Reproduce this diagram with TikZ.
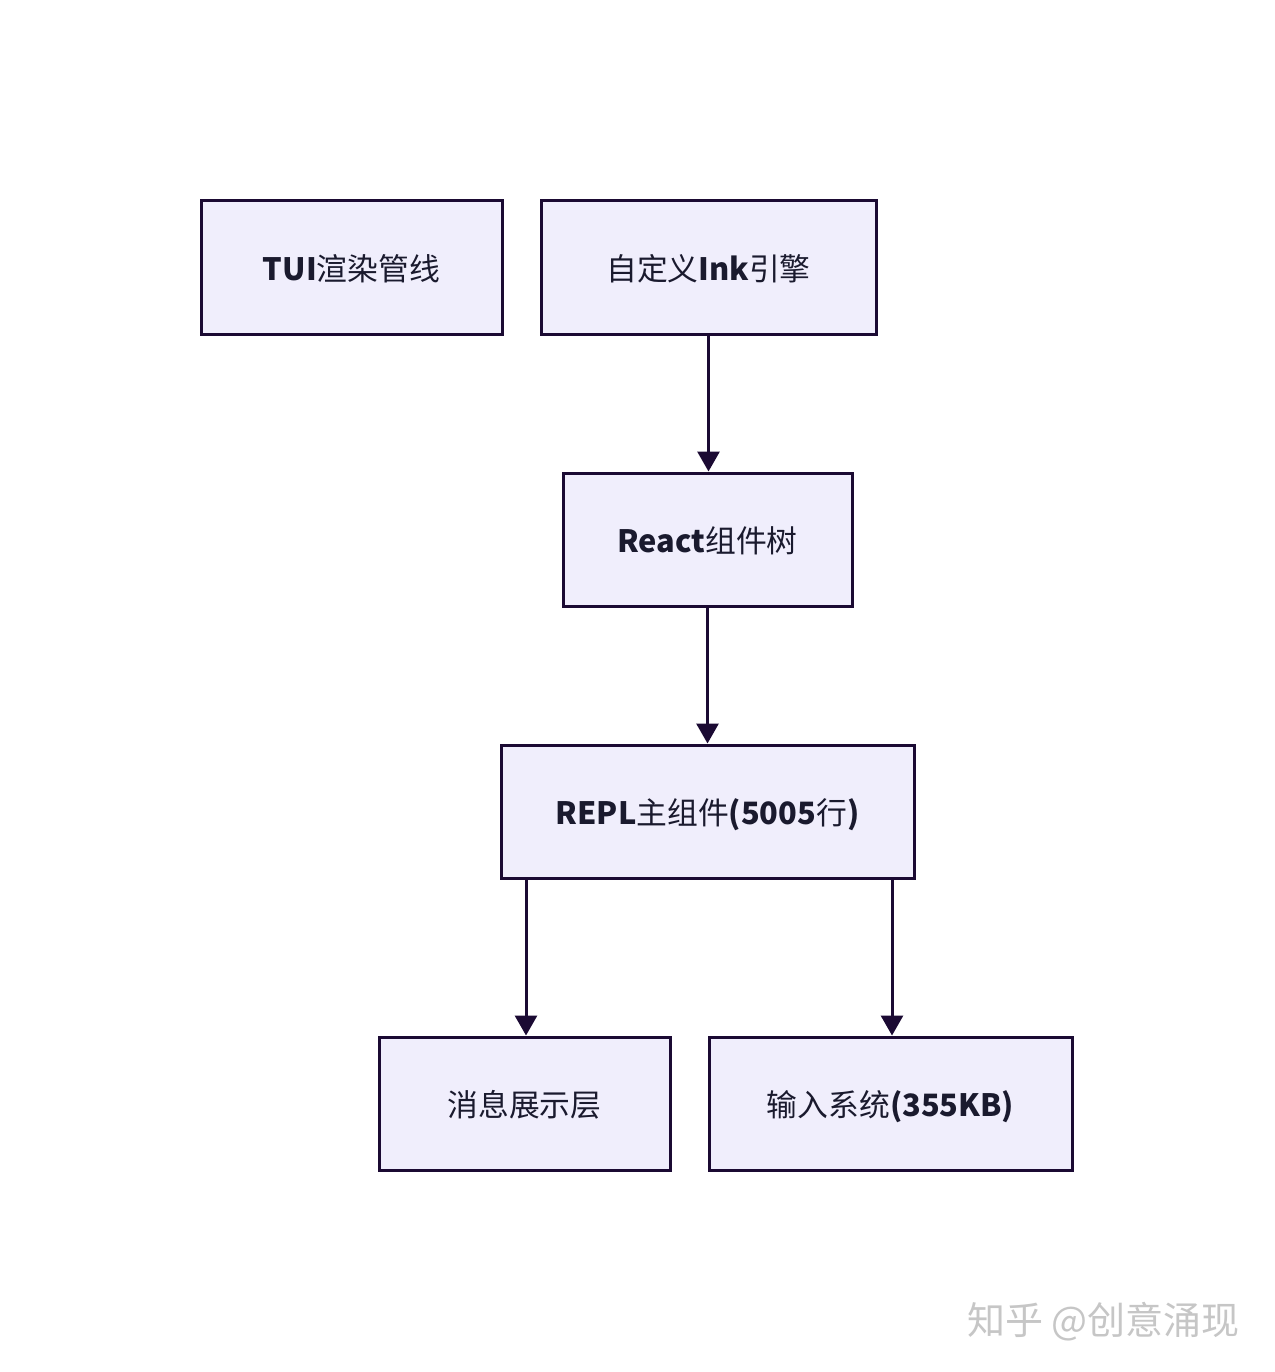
\documentclass[tikz,border=0pt]{standalone}
\usepackage{fontspec}
\setmainfont{Noto Sans CJK SC}
\usetikzlibrary{arrows.meta,calc}
\definecolor{boxfill}{HTML}{F0EEFC}
\definecolor{boxline}{HTML}{1B0A33}
\definecolor{txt}{HTML}{1A1A2E}
\definecolor{wm}{HTML}{C6C6C6}
\begin{document}
\begin{tikzpicture}[x=1pt,y=-1pt,
  box/.style={draw=boxline,fill=boxfill,line width=3pt,minimum height=133pt,inner sep=0pt,text depth=0pt,text=txt,font=\fontsize{30.8}{36}\selectfont},
  link/.style={draw=boxline,line width=3pt,-{Triangle[length=20pt,width=22pt]}}]
\fill[white] (0,0) rectangle (1274,1372);
\useasboundingbox (0,0) rectangle (1274,1372);
\node[box,minimum width=301pt] (tui) at (351.5,267.5) {\textbf{TUI}渲染管线};
\node[box,minimum width=335pt] (ink) at (708.5,267.5) {自定义\textbf{Ink}引擎};
\node[box,minimum width=289pt] (react) at (707.5,539.5) {\textbf{React}组件树};
\node[box,minimum width=413pt] (repl) at (707.5,811.5) {\textbf{REPL}主组件\textbf{(5005}行\textbf{)}};
\node[box,minimum width=291pt] (msg) at (524.5,1103.5) {消息展示层};
\node[box,minimum width=363pt] (inp) at (890.5,1103.5) {输入系统\textbf{(355KB)}};
\draw[link] (ink.south) -- (ink.south |- react.north);
\draw[link] (react.south) -- (react.south |- repl.north);
\coordinate (a1) at ($(msg.north)+(1.5,0)$);
\coordinate (a2) at ($(inp.north)+(1.5,0)$);
\draw[link] (a1 |- repl.south) -- (a1);
\draw[link] (a2 |- repl.south) -- (a2);
\node[text=wm,font=\fontsize{38}{42}\selectfont,anchor=east] (wmark) at (1243,1322) {知乎 @创意涌现};
\end{tikzpicture}
\end{document}
